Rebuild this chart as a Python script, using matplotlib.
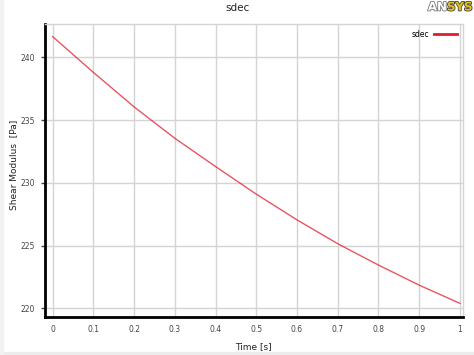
import matplotlib
matplotlib.use("Agg")
import matplotlib.pyplot as plt
from matplotlib.lines import Line2D
from matplotlib.patches import Rectangle
import matplotlib.patheffects as pe

time_s = [0.0, 0.1, 0.2, 0.3, 0.4, 0.5, 0.6, 0.7, 0.8, 0.9, 1.0]
shear_modulus = [241.65, 238.8, 236.05, 233.55, 231.3, 229.1, 227.05, 225.15, 223.45, 221.85, 220.4]
x_ticks = [0, 0.1, 0.2, 0.3, 0.4, 0.5, 0.6, 0.7, 0.8, 0.9, 1]
x_tick_labels = ["0", "0.1", "0.2", "0.3", "0.4", "0.5", "0.6", "0.7", "0.8", "0.9", "1"]
y_ticks = [220, 225, 230, 235, 240]
series_name = "sdec"

W, H = 474, 355
fig = plt.figure(figsize=(W / 100, H / 100), dpi=100)
fig.patch.set_facecolor("white")
# light gray frame strips
fig.add_artist(Rectangle((0, 0), 1, 3 / H, transform=fig.transFigure, color="#ececec", zorder=0))
fig.add_artist(Rectangle((0, 0), 3 / W, 1, transform=fig.transFigure, color="#f2f2f2", zorder=0))

left, right, top, bottom = 45, 462.7, 24, 316.5
ax = fig.add_axes([left / W, 1 - bottom / H, (right - left) / W, (bottom - top) / H])

red = "#e31b2d"
ax.plot(time_s, shear_modulus, color=red, lw=1.0, alpha=0.75)

ax.set_xlim(-0.019, 1.007)
ax.set_ylim(219.35, 242.66)
ax.set_xticks(x_ticks)
ax.set_xticklabels(x_tick_labels)
ax.set_yticks(y_ticks)
ax.grid(True, color="#d4d4d4", lw=1.0)
ax.set_axisbelow(True)

for s in ["top", "right"]:
    ax.spines[s].set_color("#d4d4d4")
    ax.spines[s].set_linewidth(1.0)
for s in ["left", "bottom"]:
    ax.spines[s].set_color("black")
    ax.spines[s].set_linewidth(2.0)

ax.tick_params(axis="both", labelsize=5.5, colors="#444444", length=3, width=1, direction="out", pad=4)
ax.tick_params(axis="x", length=0, pad=6)

ax.set_xlabel("Time [s]", fontsize=6.5, color="#222222", labelpad=6)
fig.text(14 / W, 1 - 165 / H, "Shear Modulus  [Pa]", rotation=90, ha="center", va="center",
         fontsize=6.5, color="#222222")
fig.text(238 / W, 1 - 8 / H, "sdec", ha="center", va="center", fontsize=7.5, color="#222222")

handle = Line2D([], [], color=red, lw=2.0)
leg = ax.legend([handle], [series_name], loc="upper right", frameon=False, fontsize=5.5,
                handlelength=3.0, markerfirst=False, borderaxespad=0.4, handletextpad=0.6)

# ANSYS logo
fig.text(447 / W, 1 - 7 / H, "AN", ha="right", va="center", fontsize=8.5, fontweight="bold",
         color="white", path_effects=[pe.withStroke(linewidth=1.2, foreground="#777777")])
fig.text(447 / W, 1 - 7 / H, "SYS", ha="left", va="center", fontsize=8.5, fontweight="bold",
         color="#e6c21a", path_effects=[pe.withStroke(linewidth=1.2, foreground="#444444")])

fig.savefig("out.png", dpi=100, facecolor=fig.get_facecolor())
